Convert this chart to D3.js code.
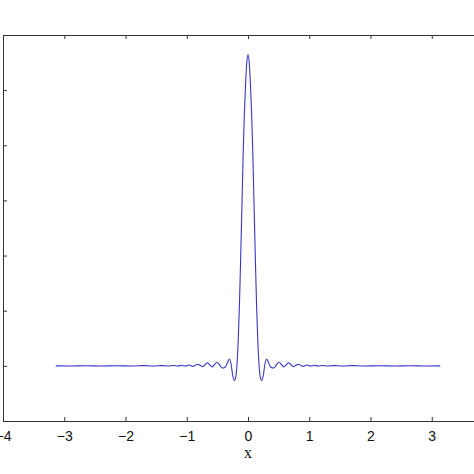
<!DOCTYPE html>
<html>
<head>
    <meta charset="UTF-8">
    <script src="https://d3js.org/d3.v7.min.js"></script>
    <title>curve</title>
    <style>
        body{margin:0;background:#fff;overflow:hidden;}
        .domain, .tick line{
            stroke:#333;
            stroke-width:1;
        }
        .tick text{
            font-family:"Liberation Sans",Arial,sans-serif;
            font-size:14px;
            fill:#111;
        }
    </style>
</head>
<body>
<div id="container"></div>
</body>
<script>
    // values
    var xVals=[-3.14,-2.90,-2.65,-2.40,-2.15,-1.90,-1.70,-1.55,-1.40,-1.30,-1.22,-1.15,-1.08,-1.02,-0.96,-0.90,
        -0.86,-0.82,-0.78,-0.74,-0.70,-0.665,-0.625,-0.585,-0.55,-0.51,-0.465,-0.42,-0.37,-0.335,-0.305,-0.275,
        -0.25,-0.225,-0.20,-0.18,-0.16,-0.14,-0.12,-0.10,-0.08,-0.06,-0.04,-0.02,0,
        0.02,0.04,0.06,0.08,0.10,0.12,0.14,0.16,0.18,0.20,0.225,0.25,0.275,0.305,0.335,0.37,0.42,0.465,0.51,
        0.55,0.585,0.625,0.665,0.70,0.74,0.78,0.82,0.86,0.90,0.96,1.02,1.08,1.15,1.22,1.30,1.40,1.55,1.70,
        1.90,2.15,2.40,2.65,2.90,3.14]
    var yVals=[0,-0.0003,0.0005,-0.0005,0.0005,-0.0005,0.001,-0.0005,0.001,-0.0005,0.0015,-0.0005,0.002,-0.001,0.003,-0.002,
        0.002,0.006,0.002,-0.003,0.004,0.011,0.004,-0.004,0.004,0.013,0.004,-0.008,-0.004,0.012,0.024,0.005,
        -0.035,-0.053,-0.040,0.005,0.09,0.22,0.39,0.57,0.76,0.91,1.02,1.10,1.128,
        1.10,1.02,0.91,0.76,0.57,0.39,0.22,0.09,0.005,-0.040,-0.053,-0.035,0.005,0.024,0.012,-0.004,-0.008,0.004,0.013,
        0.004,-0.004,0.004,0.011,0.004,-0.003,0.002,0.006,0.002,-0.002,0.003,-0.001,0.002,-0.0005,0.0015,-0.0005,0.001,-0.0005,0.001,
        -0.0005,0.0005,-0.0005,0.0005,-0.0003,0]
    // the tick at 4 lies past the right edge of the picture
    var xTicks=[-4,-3,-2,-1,0,1,2,3]
    var yTicks=[-0.2,0,0.2,0.4,0.6,0.8,1,1.2]
    var xLabel='x'

    var width=474,height=474,margin={left:3,top:35,right:-19,bottom:53}
    var g_width=width-margin.left-margin.right,
        g_height=height-margin.top-margin.bottom

    var scale_x=d3.scaleLinear()
        .domain([-4,4])
        .range([0,g_width])
    var scale_y=d3.scaleLinear()
        .domain([-0.2,1.2])
        .range([g_height,0])

    var svg=d3.select('#container').append('svg')
        .attr('width',width)
        .attr('height',height)
        .style('display','block')
    var g=svg.append('g')
        .attr('transform',"translate("+margin.left+","+margin.top+")")

    // axes, ticks point inward (box on)
    g.append('g')
        .attr('transform',"translate(0,"+g_height+")")
        .call(d3.axisBottom(scale_x).tickValues(xTicks).tickSizeInner(-4).tickSizeOuter(0).tickPadding(10))
    g.append('g')
        .call(d3.axisTop(scale_x).tickValues(xTicks).tickSizeInner(-4).tickSizeOuter(0).tickFormat(''))
    g.append('g')
        .call(d3.axisLeft(scale_y).tickValues(yTicks).tickSizeInner(-4).tickSizeOuter(0).tickFormat(''))

    // curve
    var line=d3.line()
        .x(function(d,i){return scale_x(xVals[i])})
        .y(function(d,i){return scale_y(yVals[i])})
        .curve(d3.curveMonotoneX)
    g.append('path')
        .attr('d',line(yVals))
        .attr('fill','none')
        .attr('stroke','#3636c8')
        .attr('stroke-width',1.1)

    g.append('text')
        .text(xLabel)
        .attr('x',scale_x(0))
        .attr('y',g_height+37)
        .attr('text-anchor','middle')
        .style('font-family','"Liberation Serif","Times New Roman",serif')
        .style('font-size','16px')
        .style('fill','#111')
</script>
</html>
